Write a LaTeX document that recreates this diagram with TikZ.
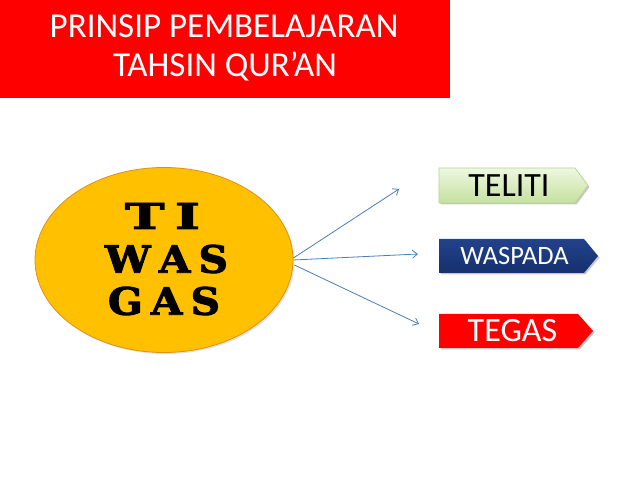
\documentclass[tikz,border=0pt]{standalone}
\usepackage{fontspec}
\setmainfont{Carlito}
\newfontfamily\ellfont{DejaVu Serif Bold}[FakeBold=2.5]
\usetikzlibrary{arrows.meta,shadows,shapes.geometric}
\definecolor{titlered}{HTML}{FF0000}
\definecolor{gold}{HTML}{FFC000}
\definecolor{goldline}{HTML}{E0901A}
\definecolor{arrowblue}{HTML}{4A7EBB}
\definecolor{navyA}{HTML}{22428C}
\definecolor{navyB}{HTML}{16306E}
\definecolor{greenA}{HTML}{EEF7E0}
\definecolor{greenB}{HTML}{C6E0A0}
\definecolor{greenline}{HTML}{B5D58C}
\tikzset{
  x=1pt, y=-1pt,
  boxshadow/.style={drop shadow={shadow xshift=1.5pt, shadow yshift=-1.5pt, opacity=0.3, fill=black!70}},
  ray/.style={draw=arrowblue, line width=0.8pt, -{Straight Barb[length=5pt,width=8pt]}},
  ttl/.style={text=white, font=\fontsize{35}{39}\selectfont, anchor=base, inner sep=0pt},
  ell/.style={inner sep=0pt, text=black, anchor=center},
  lbl/.style={anchor=base, inner sep=0pt}
}
\begin{document}
\begin{tikzpicture}
\useasboundingbox (0,0) rectangle (638,478);
\fill[white] (0,0) rectangle (638,478);
% title
\fill[titlered] (0,0) rectangle (450,98);
\node[ttl] (title1) at (224,38) {PRINSIP PEMBELAJARAN};
\node[ttl] (title2) at (225,77) {TAHSIN QUR’AN};
% ellipse
\node[ellipse, draw=goldline, fill=gold, line width=0.8pt, minimum width=258pt, minimum height=185pt, inner sep=0pt,
      drop shadow={shadow xshift=1.5pt, shadow yshift=-1.5pt, opacity=0.2, fill=black!60}] (core) at (164,260) {};
\node[ell] (l1) at (162.5,216) {\resizebox{75pt}{26pt}{\ellfont T\kern2pt I}};
\node[ell] (l2) at (166.5,259) {\resizebox{123pt}{28pt}{\ellfont W\kern2pt A\kern2pt S}};
\node[ell] (l3) at (164,301) {\resizebox{112pt}{28pt}{\ellfont G\kern2pt A\kern2pt S}};
% arrow ends
\coordinate (e1) at (399,189);
\coordinate (e2) at (418,254);
\coordinate (e3) at (419,324);
\draw[ray] ([yshift=2pt]core.east) -- (e1);
\draw[ray] ([yshift=0pt]core.east) -- (e2);
\draw[ray] ([xshift=1pt,yshift=-5pt]core.east) -- (e3);
% boxes
\path[boxshadow, top color=greenA, bottom color=greenB, draw=greenline, line width=0.6pt]
  (439,168) -- (575,168) -- (588,185.5) -- (575,203) -- (439,203) -- cycle;
\node[lbl, text=black, font=\fontsize{34}{34}\selectfont] (teliti) at (509,197) {TELITI};
\path[boxshadow, top color=navyA, bottom color=navyB]
  (439,239) -- (584,239) -- (598,256) -- (584,273) -- (439,273) -- cycle;
\node[lbl, text=white, font=\fontsize{26.5}{27}\selectfont] (waspada) at (514.5,265) {WASPADA};
\path[boxshadow, fill=titlered]
  (439,314) -- (578,314) -- (593,331) -- (578,348) -- (439,348) -- cycle;
\node[lbl, text=white, font=\fontsize{34}{34}\selectfont] (tegas) at (512.5,342) {TEGAS};
\end{tikzpicture}
\end{document}
